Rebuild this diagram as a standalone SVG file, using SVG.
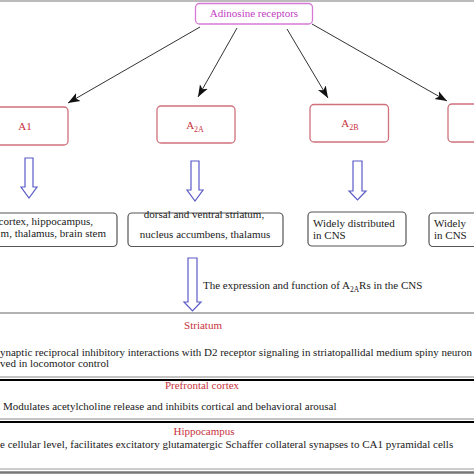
<svg xmlns="http://www.w3.org/2000/svg" width="474" height="474" viewBox="0 0 474 474">
<style>
text{font-family:"Liberation Serif","Times New Roman",serif;}
.rc{fill:#fff;stroke:#d0707c;stroke-width:1.3;}
.rt{fill:#c8323c;font-size:11px;text-anchor:middle;}
.tb{fill:#fff;stroke:#555;stroke-width:1.2;}
.t{fill:#1a1a1a;font-size:11px;}
.bt{fill:#1a1a1a;font-size:11px;}
.ha{fill:#fff;stroke:#5a5ac8;stroke-width:1.2;}
.con{stroke:#333;stroke-width:1;fill:none;marker-end:url(#ah);}
.hd{fill:#c8323c;font-size:11px;text-anchor:middle;}
</style>
<defs>
<marker id="ah" markerUnits="userSpaceOnUse" markerWidth="13" markerHeight="10" refX="12" refY="5" orient="auto">
<path d="M0,0.5 L12,5 L0,9.5 L3,5 z" fill="#111"/>
</marker>
</defs>
<rect x="0" y="0" width="474" height="474" fill="#fff"/>
<rect x="0" y="0" width="474" height="2" fill="#bbb"/>

<g id="root">
<rect x="195.5" y="3.5" width="117" height="20.5" rx="4" fill="#fff" stroke="#d67ad6" stroke-width="1.3"/>
<text x="254" y="17" font-size="11px" fill="#c33cc3" text-anchor="middle">Adinosine receptors</text>
</g>

<g id="connectors">
<line class="con" x1="200" y1="27" x2="68" y2="103"/>
<line class="con" x1="237" y1="28" x2="198" y2="97"/>
<line class="con" x1="287" y1="29" x2="328" y2="98"/>
<line class="con" x1="312" y1="24" x2="447" y2="101"/>
<polygon class="ha" points="25,158 33,158 33,187 37,187 29,198 21,187 25,187"/>
<polygon class="ha" points="191,161 199,161 199,190 203,190 195,201 187,190 191,190"/>
<polygon class="ha" points="353,161 362,161 362,191 366,191 357.5,200 349,191 353,191"/>
<polygon class="ha" points="188,258 197,258 197,302 201,302 192.5,311 184,302 188,302"/>
</g>

<g id="a1">
<rect class="rc" x="-10" y="107" width="78" height="38" rx="4"/>
<text class="rt" x="25" y="130">A1</text>
</g>
<g id="a2a">
<rect class="rc" x="157" y="106" width="78" height="37" rx="4"/>
<text class="rt" x="195" y="129">A<tspan font-size="8px" dy="3">2A</tspan></text>
</g>
<g id="a2b">
<rect class="rc" x="310" y="104.5" width="78.5" height="37.5" rx="4"/>
<text class="rt" x="350" y="127">A<tspan font-size="8px" dy="3">2B</tspan></text>
</g>
<g id="a3">
<rect class="rc" x="448" y="104" width="60" height="38" rx="4"/>
</g>

<g id="a1-dist">
<rect class="tb" x="-20" y="213" width="137" height="33.5" rx="4"/>
<text class="t" x="93" y="225" text-anchor="end">cortex, hippocampus,</text>
<text class="t" x="106" y="237" text-anchor="end">m, thalamus, brain stem</text>
</g>
<g id="a2a-dist">
<rect class="tb" x="128" y="213" width="155" height="33.5" rx="4"/>
<text class="t" x="204" y="218" text-anchor="middle">dorsal and ventral striatum,</text>
<text class="t" x="205" y="238" text-anchor="middle">nucleus accumbens, thalamus</text>
</g>
<g id="a2b-dist">
<rect class="tb" x="308" y="212" width="98" height="34" rx="4"/>
<text class="t" x="313" y="227">Widely distributed</text>
<text class="t" x="313" y="238.5">in CNS</text>
</g>
<g id="a3-dist">
<rect class="tb" x="429" y="213" width="60" height="33.5" rx="4"/>
<text class="t" x="434" y="227">Widely</text>
<text class="t" x="434" y="238.5">in CNS</text>
</g>

<g id="expr-label">
<text class="t" x="203" y="289" font-size="10.5px">The expression and function of A<tspan font-size="7.5px" dy="2.5">2A</tspan><tspan dy="-2.5">Rs in the CNS</tspan></text>
</g>

<g id="table">
<line x1="0" y1="313" x2="474" y2="313" stroke="#999" stroke-width="1.5"/>
<text class="hd" x="203" y="329">Striatum</text>
<text class="bt" x="0" y="356" textLength="472" lengthAdjust="spacing">ynaptic reciprocal inhibitory interactions with D2 receptor signaling in striatopallidal medium spiny neuron</text>
<text class="bt" x="0" y="367">ved in locomotor control</text>
<line x1="0" y1="377" x2="474" y2="377" stroke="#888" stroke-width="1"/>
<line x1="0" y1="380" x2="474" y2="380" stroke="#000" stroke-width="2"/>
<text class="hd" x="202" y="389">Prefrontal cortex</text>
<text class="bt" x="3" y="410">Modulates acetylcholine release and inhibits cortical and behavioral arousal</text>
<line x1="0" y1="419" x2="474" y2="419" stroke="#888" stroke-width="1"/>
<line x1="0" y1="422" x2="474" y2="422" stroke="#000" stroke-width="2"/>
<text class="hd" x="204" y="435">Hippocampus</text>
<text class="bt" x="0" y="448">e cellular level, facilitates excitatory glutamatergic Schaffer collateral synapses to CA1 pyramidal cells</text>
<line x1="0" y1="469" x2="474" y2="469" stroke="#999" stroke-width="1.2"/>
<line x1="0" y1="472.5" x2="474" y2="472.5" stroke="#777" stroke-width="2.5"/>
</g>
</svg>
